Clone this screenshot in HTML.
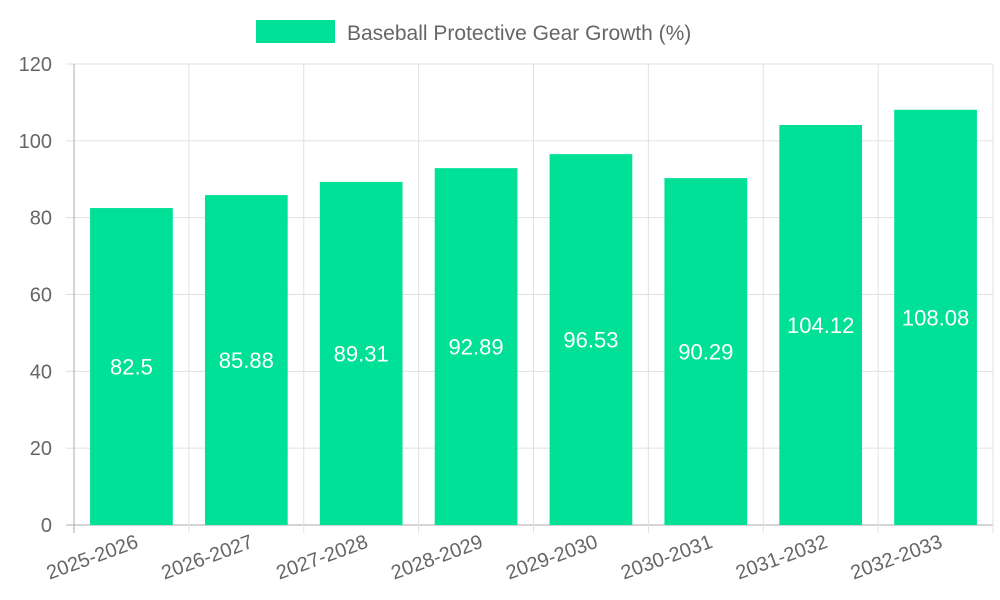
<!DOCTYPE html>
<html><head><meta charset="utf-8"><style>
body{margin:0;background:#fff;}
svg{display:block;font-family:"Liberation Sans",sans-serif;}
</style></head><body>
<svg id="chart" width="1000" height="600">
<rect x="256" y="20" width="79" height="23" fill="#00e096"/>
<text x="347" y="40" font-size="21" fill="#666">Baseball Protective Gear Growth (%)</text>
<g id="grid"></g><g id="bars"></g><g id="labels"></g>
</svg>
<script>
const categories=["2025-2026","2026-2027","2027-2028","2028-2029","2029-2030","2030-2031","2031-2032","2032-2033"];
const values=[82.5,85.88,89.31,92.89,96.53,90.29,104.12,108.08];
const yTicks=[0,20,40,60,80,100,120];
const ns="http://www.w3.org/2000/svg";
const L=74,R=993,T=64,B=525,yMax=120;
const y=v=>B-(v/yMax)*(B-T);
const bw=(R-L)/categories.length;
const x=i=>L+bw*i;
function mk(tag,attrs,parent){const e=document.createElementNS(ns,tag);for(const k in attrs)e.setAttribute(k,attrs[k]);document.getElementById(parent).appendChild(e);return e;}
yTicks.forEach(t=>{
 const l=mk("line",{x1:L-8,x2:R,y1:y(t),y2:y(t),stroke:t===0?"#aaa":"#e0e0e0","stroke-width":1},"grid");
 
 
 const tx=mk("text",{x:L-22,y:y(t)+7,"text-anchor":"end","font-size":20,fill:"#666"},"labels");
 tx.textContent=t;
 
 
});
for(let i=0;i<=categories.length;i++){
 const l=mk("line",{x1:x(i),x2:x(i),y1:T,y2:B+8,stroke:i===0?"#aaa":"#e0e0e0","stroke-width":1},"grid");
 
 
}
categories.forEach((c,i)=>{
 const cx=x(i)+bw/2, w=bw*0.72;
 const r=mk("rect",{x:cx-w/2,y:y(values[i]),width:w,height:B-y(values[i]),fill:"#00e096"},"bars");
 
 
 const v=mk("text",{x:cx,y:(y(values[i])+B)/2+8,"text-anchor":"middle","font-size":22,fill:"#fff"},"labels");
 v.textContent=values[i];
 
 
 const t=mk("text",{x:cx+8,y:B+22,"text-anchor":"end","font-size":20,fill:"#666",transform:`rotate(-20 ${cx+8} ${B+22})`},"labels");
 t.textContent=c;
 
 
});
</script>
</body></html>
